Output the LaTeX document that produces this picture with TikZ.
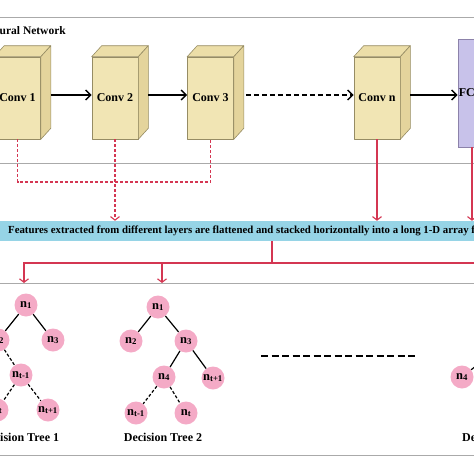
\documentclass[tikz,border=0pt]{standalone}
\usepackage{fontspec}
\setmainfont{Liberation Serif}
\usetikzlibrary{arrows.meta,calc}
\definecolor{boxfront}{RGB}{241,229,180}
\definecolor{boxtop}{RGB}{236,222,168}
\definecolor{boxside}{RGB}{228,212,156}
\definecolor{boxline}{RGB}{150,140,100}
\definecolor{fcfill}{RGB}{200,194,234}
\definecolor{fcline}{RGB}{140,130,170}
\definecolor{redc}{RGB}{212,54,82}
\definecolor{bandc}{RGB}{150,212,230}
\definecolor{pinkc}{RGB}{244,170,198}
\definecolor{grayl}{RGB}{170,170,170}
\newcommand\mycube[1]{%
  \draw[boxface, fill=boxtop] (#1.north west) -- ++(10,-11) -- ($(#1.north east)+(10,-11)$) -- (#1.north east) -- cycle;
  \draw[boxface, fill=boxside] (#1.north east) -- ($(#1.north east)+(10,-11)$) -- ($(#1.south east)+(10,-11)$) -- (#1.south east) -- cycle;}
\begin{document}
\begin{tikzpicture}[x=1pt,y=-1pt,
  boxface/.style={draw=boxline, line width=0.6pt, line join=round},
  convbox/.style={boxface, fill=boxfront, minimum width=46pt, minimum height=82pt, inner sep=0pt, font=\fontsize{12}{14}\selectfont\bfseries},
  fcbox/.style={draw=fcline, fill=fcfill, line width=0.6pt, minimum width=28pt, minimum height=108pt, inner sep=0pt},
  flowarrow/.style={line width=1.4pt, -{Straight Barb[length=5pt,width=10pt]}},
  reddash/.style={draw=redc, line width=1.1pt, dash pattern=on 3pt off 2pt},
  redarrow/.style={draw=redc, line width=1.1pt, -{Straight Barb[length=3.5pt,width=9pt]}},
  grayline/.style={draw=grayl, line width=0.8pt},
  tnode/.style={circle, fill=pinkc, minimum size=23pt, inner sep=0pt, font=\fontsize{12.5}{14}\selectfont\bfseries},
  tedge/.style={line width=1.2pt},
  tdash/.style={line width=1.2pt, dash pattern=on 3pt off 2pt},
  tlabel/.style={font=\fontsize{12}{14}\selectfont\bfseries, inner sep=0pt},
]
\useasboundingbox (0,0) rectangle (474,474);
% frame lines
\coordinate (gl1a) at (-5,17); \coordinate (gl1b) at (480,17);
\coordinate (gl2a) at (-5,163); \coordinate (gl2b) at (480,163);
\coordinate (gl3a) at (-5,283); \coordinate (gl3b) at (480,283);
\coordinate (gl4a) at (-5,455); \coordinate (gl4b) at (480,455);
\draw[grayline] (gl1a) -- (gl1b);
\draw[grayline] (gl2a) -- (gl2b);
\draw[grayline] (gl3a) -- (gl3b);
\draw[grayline] (gl4a) -- (gl4b);
% title
\node[tlabel, anchor=east, font=\fontsize{11.5}{13}\selectfont\bfseries] (title) at (66,31) {Neural Network};
% conv boxes
\node[convbox] (c1) at (17.5,98) {Conv 1}; \mycube{c1}
\node[convbox] (c2) at (115,98) {Conv 2}; \mycube{c2}
\node[convbox] (c3) at (210.5,98) {Conv 3}; \mycube{c3}
\node[convbox] (cn) at (377,98) {Conv n}; \mycube{cn}
\node[fcbox] (fc) at (472,93) {};
\node[tlabel, anchor=west] (fct) at ([xshift=1pt]fc.west) {FC};
% arrows
\coordinate (ar) at ([yshift=3pt]cn.east);
\draw[flowarrow] ([xshift=10pt,yshift=3pt]c1.east) -- ([yshift=3pt]c2.west);
\draw[flowarrow] ([xshift=10pt,yshift=3pt]c2.east) -- ([yshift=3pt]c3.west);
\draw[flowarrow, dash pattern=on 5pt off 3pt] ([xshift=12pt,yshift=3pt]c3.east) -- ([yshift=3pt]cn.west);
\draw[flowarrow] ([xshift=10pt]ar) -- (fc.west |- ar);
% band
\node[fill=bandc, minimum width=480pt, minimum height=20pt, inner sep=0pt] (band) at (237,231) {};
\node[anchor=west, inner sep=0pt, font=\fontsize{10.8}{12}\selectfont\bfseries] (bandtext) at (8,231) {Features extracted from different layers are flattened and stacked horizontally into a long 1-D array feature vector};
% red connectors to band
\coordinate (dj) at (0,182);
\draw[reddash] (c1.south) -- (c1.south |- dj) -- (c3.south |- dj) -- (c3.south);
\draw[reddash, -{Straight Barb[length=3.5pt,width=9pt]}] (c2.south) -- (c2.south |- band.north);
\draw[redarrow] (cn.south) -- (cn.south |- band.north);
\draw[redarrow] (fc.south) -- (fc.south |- band.north);
% band to trees
\coordinate (b1) at (272,263);
\coordinate (t1top) at (24,283);
\coordinate (t2top) at (162,283);
\coordinate (t3top) at (500,283);
\draw[draw=redc, line width=1.1pt] (b1 |- band.south) -- (b1);
\draw[redarrow] (b1) -| (t1top);
\draw[redarrow] (b1) -| (t2top);
\draw[draw=redc, line width=1.1pt] (b1) -| (t3top);
% tree 1
\node[tnode] (a1) at (26,305) {n\textsubscript{1}};
\node[tnode] (a2) at (-2,340) {n\textsubscript{2}};
\node[tnode] (a3) at (53,340) {n\textsubscript{3}};
\node[tnode] (atm) at (21,375) {n\textsubscript{t-1}};
\node[tnode] (at) at (-3,410) {n\textsubscript{t}};
\node[tnode] (atp) at (48,410) {n\textsubscript{t+1}};
\draw[tedge] (a1) -- (a2);
\draw[tedge] (a1) -- (a3);
\draw[tdash] (a2) -- (atm);
\draw[tdash] (atm) -- (at);
\draw[tdash] (atm) -- (atp);
\node[tlabel] (l1) at (20,437) {Decision Tree 1};
% tree 2
\node[tnode] (b1n) at (158,307) {n\textsubscript{1}};
\node[tnode] (b2) at (131,341) {n\textsubscript{2}};
\node[tnode] (b3) at (186,341) {n\textsubscript{3}};
\node[tnode] (b4) at (164,377) {n\textsubscript{4}};
\node[tnode] (btp) at (213,378) {n\textsubscript{t+1}};
\node[tnode] (btm) at (136,413) {n\textsubscript{t-1}};
\node[tnode] (bt) at (186,413) {n\textsubscript{t}};
\draw[tedge] (b1n) -- (b2);
\draw[tedge] (b1n) -- (b3);
\draw[tedge] (b3) -- (b4);
\draw[tedge] (b3) -- (btp);
\draw[tdash] (b4) -- (btm);
\draw[tdash] (b4) -- (bt);
\node[tlabel] (l2) at (163,437) {Decision Tree 2};
% separator
\coordinate (sa) at (261,356); \coordinate (sb) at (417,356);
\draw[line width=2.2pt, dash pattern=on 7pt off 3.5pt] (sa) -- (sb);
% tree 3
\node[tnode] (c4) at (462,377) {n\textsubscript{4}};
\coordinate (c3p) at (500,347);
\draw[tedge] (c4) -- (c3p);
\node[tlabel, anchor=west] (l3) at (462,437) {Decision Tree 3};
\end{tikzpicture}
\end{document}
